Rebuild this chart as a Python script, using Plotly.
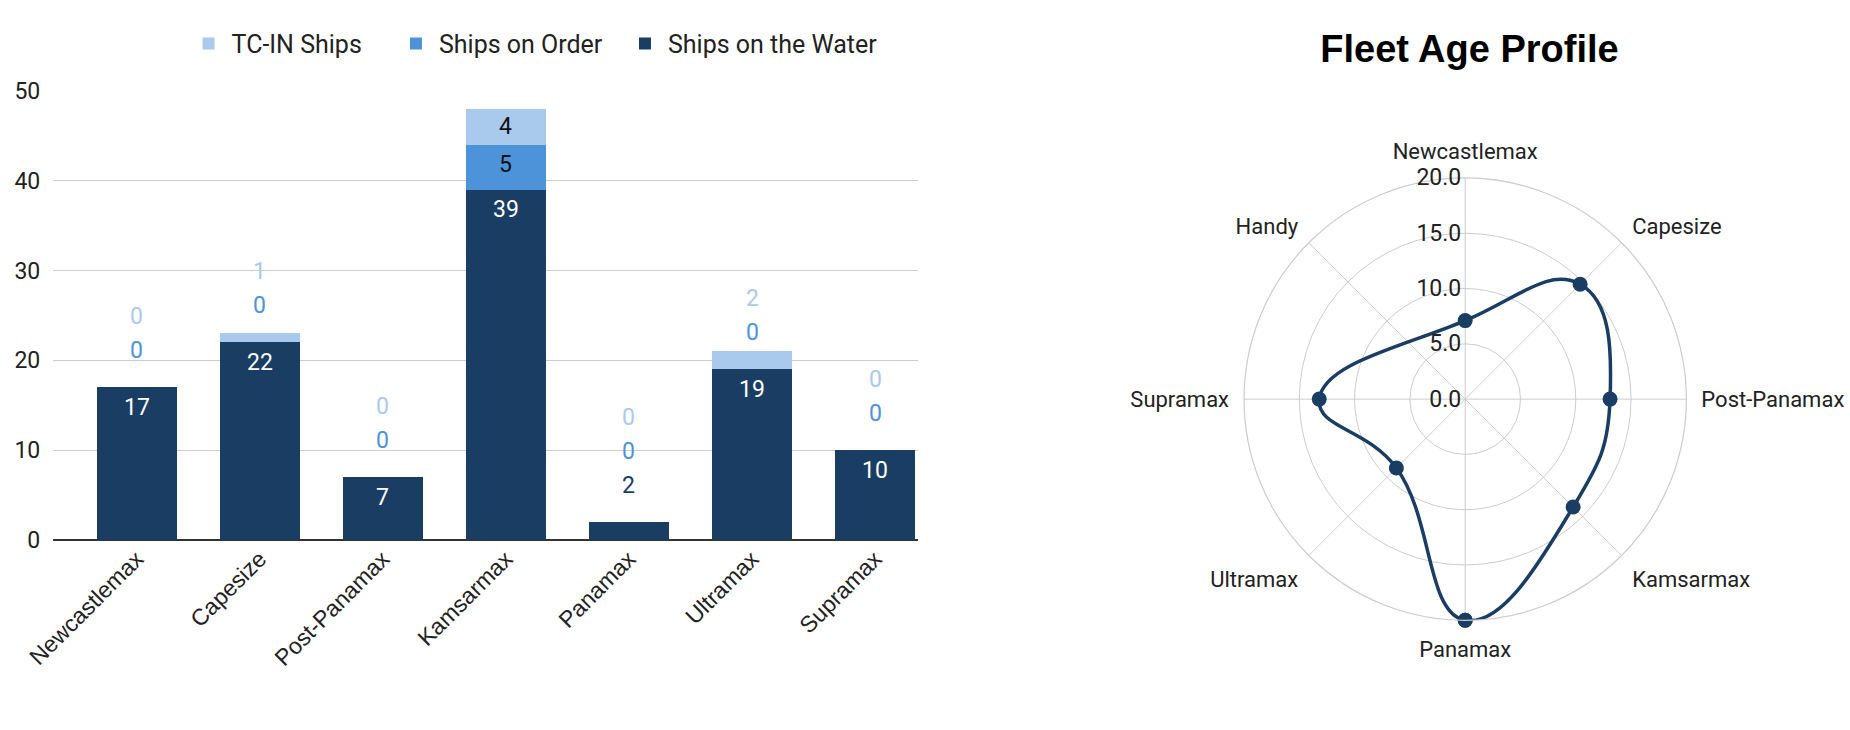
import plotly.graph_objects as go

# ---------------- data ----------------
bar_categories = ["Newcastlemax", "Capesize", "Post-Panamax", "Kamsarmax", "Panamax", "Ultramax", "Supramax"]
ships_on_water = [17, 22, 7, 39, 2, 19, 10]
ships_on_order = [0, 0, 0, 5, 0, 0, 0]
tc_in_ships = [0, 1, 0, 4, 0, 2, 0]

radar_categories = ["Newcastlemax", "Capesize", "Post-Panamax", "Kamsarmax", "Panamax", "Ultramax", "Supramax", "Handy"]
fleet_age = [7.1, 14.7, 13.1, 13.8, 20.0, 8.8, 13.2, None]
radial_ticks = [0, 5, 10, 15, 20]
y_ticks = [0, 10, 20, 30, 40, 50]

# ---------------- style ----------------
NAVY = "#1a3d63"
MID = "#4d93d9"
LIGHT = "#a9caed"
GRID = "#cccccc"
TXT = "#222222"
W, H = 1850, 730
ROBOTO = "Roboto, Arial, sans-serif"
ARIAL = "Liberation Sans, Arial, sans-serif"

x_dom = [0.0288, 0.4961]
y_dom = [0.2603, 0.8753]
y_range = [0, 50]
px_per_unit = (y_dom[1] - y_dom[0]) * H / (y_range[1] - y_range[0])

fig = go.Figure()

series = [
    ("Ships on the Water", ships_on_water, NAVY, "white", NAVY, "legend3"),
    ("Ships on Order", ships_on_order, MID, "#111111", MID, "legend2"),
    ("TC-IN Ships", tc_in_ships, LIGHT, "#111111", LIGHT, "legend"),
]
for name, vals, col, _, _, leg in series:
    fig.add_trace(go.Bar(
        x=bar_categories, y=vals, name=name, marker=dict(color=col, line=dict(width=0)),
        width=0.65, xaxis="x", yaxis="y", hoverinfo="skip", legend=leg,
    ))

# value labels (Google-charts-like placement)
annotations = []
for i, cat in enumerate(bar_categories):
    cum = 0
    last_out = None
    for name, vals, col, in_col, out_col, _ in series:
        v = vals[i]
        top = cum + v
        h_px = v * px_per_unit
        if v > 0 and h_px >= 30:
            shift = -min(20, h_px / 2)
            color = in_col
        else:
            shift = 37
            if last_out is not None:
                cur_abs = top * px_per_unit + shift
                if cur_abs < last_out + 34:
                    shift = last_out + 34 - top * px_per_unit
            last_out = top * px_per_unit + shift
            color = out_col
        annotations.append(dict(
            x=cat, y=top, xref="x", yref="y", text=str(v), showarrow=False,
            yshift=shift, yanchor="middle", xanchor="center",
            font=dict(family=ROBOTO, size=23, color=color),
        ))
        cum = top

# radar: start the drawn loop at Panamax (pointed tip in the original)
start = radar_categories.index("Panamax")
loop_theta = radar_categories[start:] + radar_categories[:start] + [radar_categories[start]]
loop_r = fleet_age[start:] + fleet_age[:start] + [fleet_age[start]]

fig.add_trace(go.Scatterpolar(
    r=loop_r,
    theta=loop_theta,
    mode="lines+markers",
    line=dict(color=NAVY, width=3.5, shape="spline", smoothing=1.3),
    marker=dict(color=NAVY, size=15),
    connectgaps=True,
    showlegend=False,
    hoverinfo="skip",
    subplot="polar",
))

def legend_at(x):
    return dict(
        orientation="h", x=x, xanchor="left", y=0.94, yanchor="middle",
        font=dict(family=ROBOTO, size=25, color=TXT),
        bgcolor="rgba(0,0,0,0)", itemwidth=36,
    )

fig.update_layout(
    width=W, height=H,
    margin=dict(l=0, r=0, t=0, b=0),
    paper_bgcolor="white", plot_bgcolor="white",
    barmode="stack",
    template="none",
    showlegend=True,
    legend=legend_at(0.1003),
    legend2=legend_at(0.2124),
    legend3=legend_at(0.3362),
    xaxis=dict(
        domain=x_dom, range=[-0.678, 6.347], tickangle=-45, showgrid=False,
        tickfont=dict(family=ARIAL, size=23, color=TXT), ticks="", automargin=False,
        showline=False, zeroline=False,
    ),
    yaxis=dict(
        domain=y_dom, range=y_range, tickvals=y_ticks, showgrid=True, gridcolor=GRID, gridwidth=1.2,
        zeroline=True, zerolinecolor="#333333", zerolinewidth=2, ticks="", ticklabelstandoff=12,
        tickfont=dict(family=ROBOTO, size=23, color=TXT), automargin=False, showline=False,
    ),
    polar=dict(
        domain=dict(x=[0.6572, 0.9268], y=[0.1503, 0.7562]),
        bgcolor="white",
        angularaxis=dict(
            type="category", categoryorder="array", categoryarray=radar_categories,
            rotation=90, direction="clockwise",
            tickfont=dict(family=ROBOTO, size=22, color=TXT),
            ticks="outside", ticklen=10, tickcolor="rgba(0,0,0,0)",
            showline=True, linecolor=GRID, linewidth=1.2, gridcolor=GRID, gridwidth=1.2,
        ),
        radialaxis=dict(
            range=[0, 20], tickvals=radial_ticks, tickformat=".1f", angle=90, tickangle=90,
            side="counterclockwise",
            showline=False, ticks="", gridcolor=GRID, gridwidth=1.2,
            tickfont=dict(family=ROBOTO, size=23, color=TXT),
        ),
    ),
    title=dict(
        text="<b>Fleet Age Profile</b>", x=0.7943, xanchor="center", y=0.933, yanchor="middle",
        xref="paper", yref="paper", font=dict(family=ARIAL, size=38, color="#000000"),
    ),
    annotations=annotations,
)

fig.write_html("out.html")
